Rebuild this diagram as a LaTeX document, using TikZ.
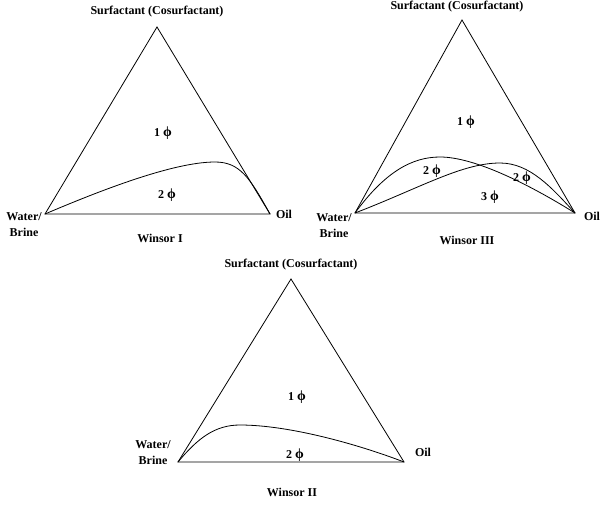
\documentclass[tikz,border=0pt]{standalone}
\usepackage{fontspec}
\setmainfont{Liberation Serif}
\newcommand{\ph}{{\fontsize{14}{14}\selectfont ϕ}}
\begin{document}
\begin{tikzpicture}[x=1pt,y=-1pt,
  lbl/.style={font=\bfseries\fontsize{12}{13}\selectfont,inner sep=0pt},
  tri/.style={draw,line width=0.8pt,line join=miter},
  crv/.style={draw,line width=0.8pt}]
\useasboundingbox (0,0) rectangle (602,506);
% Winsor I
\coordinate (a1) at (157,27); \coordinate (l1) at (45,214); \coordinate (r1) at (270,214);
\coordinate (k1) at (215,162);
\draw[tri] (a1) -- (l1) -- (r1) -- cycle;
\draw[crv] (l1) .. controls (120,182) and (180,162) .. (k1) .. controls (240,162) and (250,178) .. (r1);
\node[lbl] (t1) at (157,12) {Surfactant (Cosurfactant)};
\node[lbl] (p11) at (163,133) {1 \ph};
\node[lbl] (p12) at (167,195) {2 \ph};
\node[lbl,align=center] (w1) at (24,225) {Water/\\[3pt]Brine};
\node[lbl] (o1) at (284,214) {Oil};
\node[lbl] (n1) at (160,238) {Winsor I};
% Winsor III
\coordinate (a3) at (462,20); \coordinate (l3) at (355,213); \coordinate (r3) at (575,213);
\coordinate (kA) at (440,157); \coordinate (kB) at (500,163);
\draw[tri] (a3) -- (l3) -- (r3) -- cycle;
\draw[crv] (l3) .. controls (385,172) and (412,157) .. (kA) .. controls (475,157) and (530,185) .. (r3);
\draw[crv] (l3) .. controls (420,188) and (462,163) .. (kB) .. controls (530,163) and (552,188) .. (r3);
\node[lbl] (t3) at (457,7) {Surfactant (Cosurfactant)};
\node[lbl] (p31) at (466,122) {1 \ph};
\node[lbl] (p32) at (432,171) {2 \ph};
\node[lbl] (p33) at (522,178) {2 \ph};
\node[lbl] (p34) at (490,197) {3 \ph};
\node[lbl,align=center] (w3) at (334,226) {Water/\\[3pt]Brine};
\node[lbl] (o3) at (592,216) {Oil};
\node[lbl] (n3) at (467,240) {Winsor III};
% Winsor II
\coordinate (a2) at (291,279); \coordinate (l2) at (178,462); \coordinate (r2) at (404,462);
\coordinate (k2) at (240,425);
\draw[tri] (a2) -- (l2) -- (r2) -- cycle;
\draw[crv] (l2) .. controls (198,438) and (215,425) .. (k2) .. controls (290,425) and (360,445) .. (r2);
\node[lbl] (t2) at (291,265) {Surfactant (Cosurfactant)};
\node[lbl] (p21) at (297,397) {1 \ph};
\node[lbl] (p22) at (295,455) {2 \ph};
\node[lbl,align=center] (w2) at (153,453) {Water/\\[3pt]Brine};
\node[lbl] (o2) at (423,452) {Oil};
\node[lbl] (n2) at (292,492) {Winsor II};
\end{tikzpicture}
\end{document}
